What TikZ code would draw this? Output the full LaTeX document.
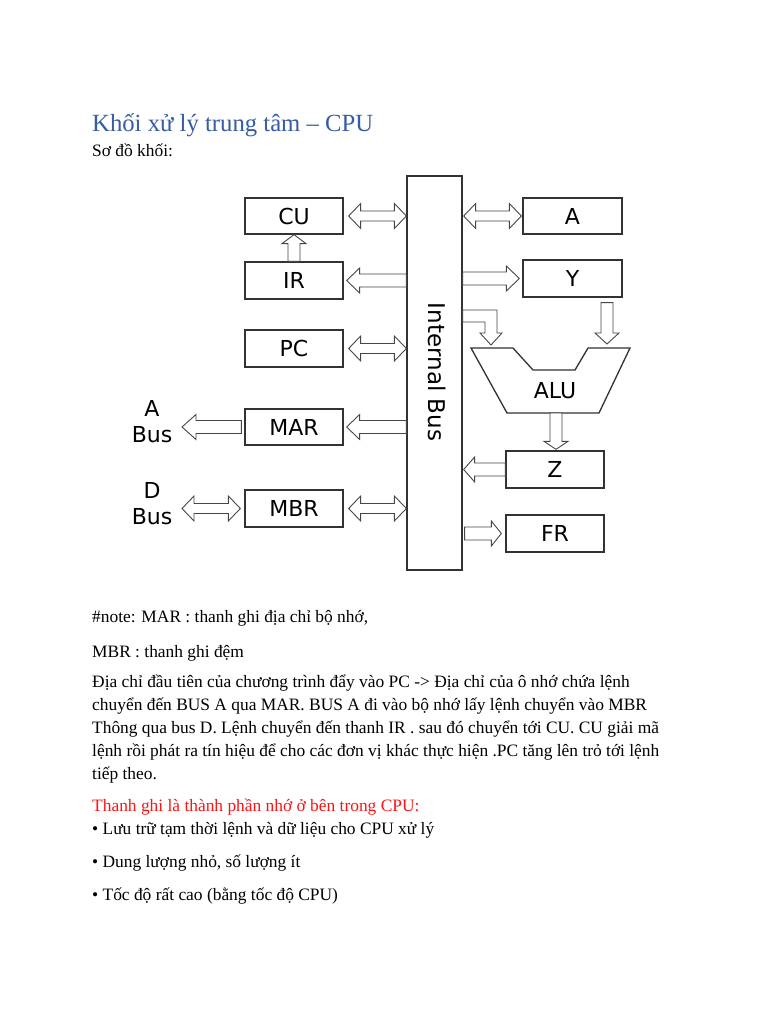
\documentclass[tikz,border=0pt]{standalone}
\usepackage{fontspec}
\setmainfont{Liberation Serif}
\newfontfamily\diafont{DejaVu Sans}
\usetikzlibrary{calc}
\definecolor{titleblue}{RGB}{54,92,165}
\definecolor{redtxt}{RGB}{250,20,20}
\definecolor{boxline}{RGB}{50,50,50}
\definecolor{arrline}{RGB}{70,70,70}
% horizontal single block arrow: [head length]{tail}{tip}
\newcommand\blkH[3][13pt]{%
 \draw[blk] let \p1=(#2),\p2=(#3),\p3=($(#3)!#1!(#2)$) in
  (\x1,{\y2+6.5pt}) -- (\x3,{\y2+6.5pt}) -- (\x3,{\y2+12.5pt}) -- (\p2) -- (\x3,{\y2-12.5pt}) -- (\x3,{\y2-6.5pt}) -- (\x1,{\y2-6.5pt}) -- cycle;}
% vertical single block arrow
\newcommand\blkV[3][10pt]{%
 \draw[blk] let \p1=(#2),\p2=(#3),\p3=($(#3)!#1!(#2)$) in
  ({\x2-6pt},\y1) -- ({\x2-6pt},\y3) -- ({\x2-12pt},\y3) -- (\p2) -- ({\x2+12pt},\y3) -- ({\x2+6pt},\y3) -- ({\x2+6pt},\y1) -- cycle;}
% horizontal double block arrow
\newcommand\blkD[2]{%
 \draw[blk] let \p1=(#1),\p2=(#2),\p3=($(#1)!12pt!(#2)$),\p4=($(#2)!12pt!(#1)$) in
  (\p1) -- (\x3,{\y1+12.5pt}) -- (\x3,{\y1+5pt}) -- (\x4,{\y1+5pt}) -- (\x4,{\y1+12.5pt}) -- (\x2,\y1) -- (\x4,{\y1-12.5pt}) -- (\x4,{\y1-5pt}) -- (\x3,{\y1-5pt}) -- (\x3,{\y1-12.5pt}) -- cycle;}
\begin{document}
\begin{tikzpicture}[x=1pt,y=-1pt,
 reg/.style={draw=boxline,line width=1.3pt,minimum width=98pt,minimum height=36pt,inner sep=0pt,font=\diafont\fontsize{22}{26}\selectfont},
 lbl/.style={inner sep=0pt,align=center,font=\diafont\fontsize{22}{26}\selectfont},
 blk/.style={draw=arrline,line width=0.9pt,fill=white,line join=miter},
 body/.style={anchor=base west,inner sep=0pt,font=\fontsize{17.4}{21}\selectfont}]
\useasboundingbox (0,0) rectangle (768,1024);
\fill[white] (0,0) rectangle (768,1024);

% text
\node[body,font=\fontsize{24.7}{29}\selectfont,text=titleblue] (title) at (92,132) {Khối xử lý trung tâm – CPU};
\node[body] (sub) at (92,157) {Sơ đồ khối:};

% registers
\node[reg] (cu) at (294,216) {CU};
\node[reg,minimum height=37pt] (ir) at (294,280.5) {IR};
\node[reg,minimum height=37pt] (pc) at (294,348.5) {PC};
\node[reg] (mar) at (294,427) {MAR};
\node[reg,minimum height=37pt] (mbr) at (294,508.5) {MBR};
\node[reg,minimum width=55pt,minimum height=394pt] (bus) at (434.5,373) {};
\node[lbl,rotate=-90,font=\diafont\fontsize{23}{27}\selectfont] (buslbl) at (437,372) {Internal Bus};
\node[reg,minimum width=99pt] (a) at (572.5,216) {A};
\node[reg,minimum width=99pt,minimum height=37pt] (y) at (572.5,278.5) {Y};
\node[reg,minimum height=37pt] (z) at (555,469.5) {Z};
\node[reg,minimum height=37pt] (fr) at (555,533.5) {FR};

% ALU
\draw[boxline,line width=1.3pt,line join=miter] (471,348) -- (513,348) -- (533,370) -- (575,370) -- (588,348) -- (630,348) -- (599,413) -- (507,413) -- cycle;
\node[lbl] (alu) at (555,391) {ALU};
\coordinate (aluin) at (491,345);
\coordinate (alupy) at (607,348);
\coordinate (alubot) at (556,413);

% bus labels
\node[lbl] (abus) at (152,422) {A\\Bus};
\node[lbl] (dbus) at (152,503.5) {D\\Bus};
\coordinate (abusend) at (182,427);
\coordinate (dbusend) at (182,508.5);

% arrows
\blkD{$(cu.east)+(5,0)$}{bus.west |- cu.east}
\blkH{bus.west |- ir.east}{$(ir.east)+(3,0)$}
\blkV[9pt]{ir.north}{cu.south}
\blkD{$(pc.east)+(5,0)$}{bus.west |- pc.east}
\blkH{bus.west |- mar.east}{$(mar.east)+(3,0)$}
\blkH[14pt]{$(mar.west)+(-3,0)$}{abusend}
\blkD{dbusend}{$(mbr.west)+(-4,0)$}
\blkD{$(mbr.east)+(5,0)$}{bus.west |- mbr.east}
\blkD{$(bus.east |- a.west)+(1,0)$}{$(a.west)+(-1,0)$}
\blkH{bus.east |- y.west}{$(y.west)+(-3,0)$}
\blkV[11pt]{$(alupy |- y.south)+(0,5)$}{$(alupy)+(0,-4)$}
\blkV[8pt]{alubot}{$(alubot |- z.north)+(0,-1)$}
\blkH[11pt]{z.west}{$(bus.east |- z.west)+(1,0)$}
\blkH[10pt]{$(bus.east |- fr.west)+(2,0)$}{$(fr.west)+(-4,0)$}
\draw[blk] (bus.east |- 0,310) -- (497,310) -- (497,333) -- (502,333) -- (aluin) -- (480,333) -- (485,333) -- (485,322) -- (bus.east |- 0,322) -- cycle;

% notes
\node[body] (n1) at (92,622) {\#note: MAR : thanh ghi địa chỉ bộ nhớ,};
\node[body] (n2) at (92,657) {MBR : thanh ghi đệm};
\node[body] (p1) at (92,687) {Địa chỉ đầu tiên của chương trình đẩy vào PC -> Địa chỉ của ô nhớ chứa lệnh};
\node[body] (p2) at (92,710) {chuyển đến BUS A qua MAR. BUS A đi vào bộ nhớ lấy lệnh chuyển vào MBR};
\node[body] (p3) at (92,733) {Thông qua bus D. Lệnh chuyển đến thanh IR . sau đó chuyển tới CU. CU giải mã};
\node[body] (p4) at (92,756) {lệnh rồi phát ra tín hiệu để cho các đơn vị khác thực hiện .PC tăng lên trỏ tới lệnh};
\node[body] (p5) at (92,779) {tiếp theo.};
\node[body,text=redtxt] (h2) at (92,811) {Thanh ghi là thành phần nhớ ở bên trong CPU:};
\node[body] (b1) at (92,834) {• Lưu trữ tạm thời lệnh và dữ liệu cho CPU xử lý};
\node[body] (b2) at (92,867) {• Dung lượng nhỏ, số lượng ít};
\node[body] (b3) at (92,900) {• Tốc độ rất cao (bằng tốc độ CPU)};
\end{tikzpicture}
\end{document}
